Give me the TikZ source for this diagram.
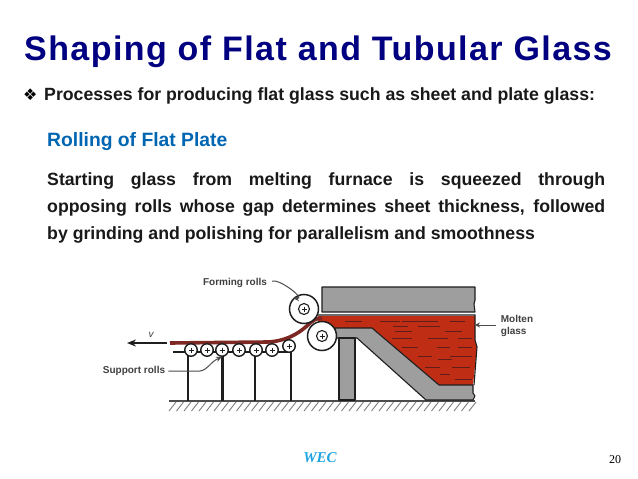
\documentclass[tikz,border=0pt]{standalone}
\usepackage{fontspec}
\setmainfont{Liberation Sans}
\newfontfamily\serifface{Liberation Serif}
\newfontfamily\symface{DejaVu Sans}
\usetikzlibrary{arrows.meta}
\definecolor{titleblue}{RGB}{0,0,128}
\definecolor{headblue}{RGB}{0,102,178}
\definecolor{wecblue}{RGB}{30,165,225}
\definecolor{molten}{RGB}{190,45,20}
\definecolor{strip}{RGB}{125,40,35}
\definecolor{steel}{RGB}{158,158,158}
\definecolor{ink}{RGB}{30,30,30}
\tikzset{
 x=1pt,y=-1pt,
 bodytext/.style={anchor=base west,inner sep=0pt,font=\fontsize{17.7}{20}\selectfont\bfseries,text=black!90},
 partlabel/.style={inner sep=0pt,font=\fontsize{10}{11.5}\selectfont\bfseries,text=black!75,align=left},
 solid part/.style={draw=ink,line width=1.1pt,fill=steel,line join=round},
 bigroll/.style={circle,draw=ink,line width=1.5pt,fill=white,minimum size=29pt,inner sep=0pt},
 smallroll/.style={circle,draw=ink,line width=1.4pt,fill=white,minimum size=12.5pt,inner sep=0pt},
 leader/.style={draw=black!70,line width=1pt},
 meltdash/.style={draw=strip!75!black,line width=1pt},
 post/.style={draw=ink,line width=1.1pt},
}
\newcommand{\hubmark}[1]{\draw[line width=.9pt,ink] (#1)+(-2.5,0)--+(2.5,0) (#1)+(0,-2.5)--+(0,2.5);}
\begin{document}
\begin{tikzpicture}
\useasboundingbox[fill=white] (0,0) rectangle (638,479);
% texts
\node[anchor=base west,inner sep=0pt,text=titleblue,font=\fontsize{34}{36}\selectfont\bfseries] (title) at (24,60) {\addfontfeature{LetterSpace=4.2}Shaping of Flat and Tubular Glass};
\node[anchor=base west,inner sep=0pt,font=\fontsize{16}{18}\selectfont\symface] (bullet) at (23,100) {❖};
\node[anchor=base west,inner sep=0pt,text=black!90,font=\fontsize{17.7}{20}\selectfont\bfseries] (proc) at (44,100) {Processes for producing flat glass such as sheet and plate glass:};
\node[anchor=base west,inner sep=0pt,text=headblue,font=\fontsize{19.3}{22}\selectfont\bfseries] (head) at (47,146) {Rolling of Flat Plate};
\node[bodytext] (l1) at (47,185) {\makebox[558pt][s]{Starting glass from melting furnace is squeezed through}};
\node[bodytext] (l2) at (47,212) {\makebox[558pt][s]{opposing rolls whose gap determines sheet thickness, followed}};
\node[bodytext] (l3) at (47,239) {by grinding and polishing for parallelism and smoothness};
\node[anchor=base,inner sep=0pt,text=wecblue,font=\fontsize{15}{17}\selectfont\serifface\bfseries\itshape] (wec) at (320,462) {WEC};
\node[anchor=base,inner sep=0pt,text=black,font=\fontsize{12}{14}\selectfont\serifface] (num) at (615,463) {20};
% ground
\draw[line width=1.4pt,black!70] (169,401)--(475,401);
\foreach \i in {0,...,40} {\draw[line width=.9pt,black!50] ({169+7.5*\i},411)--({176+7.5*\i},402);}
% posts
\draw[post,line width=1.5pt] (188,352)--(188,401);
\draw[post,line width=3pt] (222,352)--(222,401);
\draw[post,line width=1.9pt] (255,352)--(255,401);
\draw[post,line width=1.5pt] (291,350)--(291,401);
% bar
\draw[line width=2.6pt,ink] (173,352)--(291,352);
% structure
\fill[molten] (318,316)--(475,316)--(475,340)--(477,347)--(473,385)--(439,385)--(372,328)--(335,328)--(318,322)--cycle;
\draw[line width=1.1pt,ink] (318,315)--(475,315)--(475,340)--(477,347)--(474,385);
\draw[solid part] (322,287)--(475,287)--(475,300)--(474,304)--(475,312)--(322,312)--cycle;
\draw[solid part] (335,328)--(372,328)--(439,385)--(473,385)--(473,393)--(475,396)--(473,400)--(426,400)--(357,338)--(335,338)--cycle;
\draw[solid part] (339,338) rectangle (355,400);
% melt dashes
\foreach \a/\b/\y in {345/362/321,380/400/321,402/438/321,450/465/321,393/408/326,418/440/326,395/412/331,445/462/331,392/412/338,428/448/338,458/472/338,402/418/347,437/450/347,458/472/347,418/432/356,450/472/356,438/452/359,425/440/367,452/470/367,440/450/374,455/472/379}
 {\draw[meltdash] (\a,\y)--(\b,\y);}
% glass strip
\draw[strip,line width=3.6pt] (170,343)--(268,342) .. controls (285,341) and (297,335) .. (308,325) .. controls (312,321) and (316,318) .. (322,318);
% forming rolls
\node[bigroll] (fr1) at (304,309) {};
\node[bigroll] (fr2) at (322,336) {};
\foreach \r in {fr1,fr2}{
 \draw[line width=1.1pt,ink] (\r.center) circle (5.5);
 \hubmark{\r.center}
}
% support rolls
\foreach \n/\cx/\cy in {s1/191/350,s2/207/350,s3/222/350,s4/239/350,s5/256/350,s6/272/350,s7/289/346}{
 \node[smallroll] (\n) at (\cx,\cy) {};
 \hubmark{\n.center}
}
% arrow
\coordinate (vs) at (167,343);
\coordinate (ve) at (127,343);
\draw[-{Stealth[length=9pt,width=7pt]},line width=1.8pt,ink] (vs)--(ve);
\node[partlabel,font=\fontsize{10}{11}\selectfont\itshape] (v) at (151,335) {v};
% labels
\node[partlabel] (flabel) at (235,283) {Forming rolls};
\node[partlabel] (slabel) at (134,371) {Support rolls};
\node[partlabel] (mlabel) at (517,326) {Molten\\[1pt]glass};
\draw[leader,-{Stealth[length=6pt,width=5pt]}] (flabel.east)+(5,-2) .. controls +(8,-2) and +(13,1) .. (fr1.north west);
\coordinate (sbend) at (200,371);
\draw[leader,-{Stealth[length=6pt,width=5pt]}] (slabel.east)+(3,0) -- (sbend) .. controls (208,370) and (210,362) .. (s3.south);
\draw[leader,-{Stealth[length=5pt,width=5pt]}] (mlabel.west)+(-5,-1) -- (475,325);
\end{tikzpicture}
\end{document}
